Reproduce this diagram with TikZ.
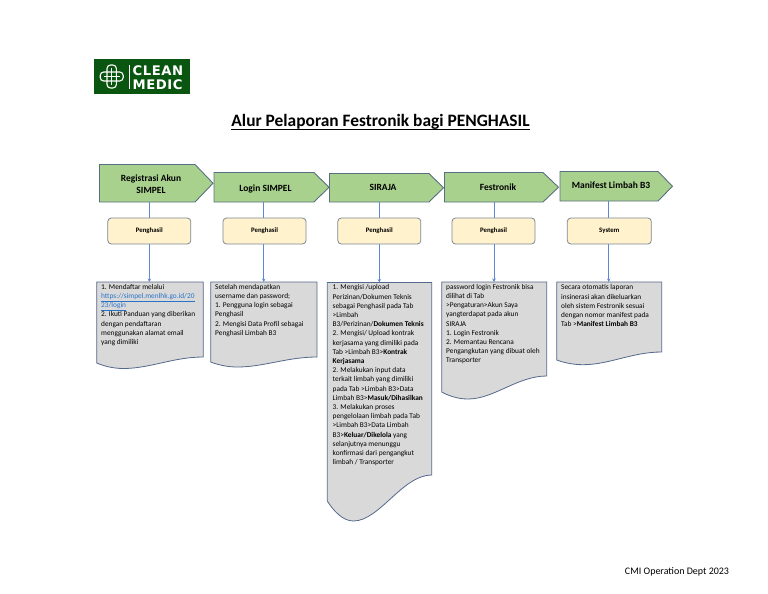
\documentclass[tikz,border=0pt]{standalone}
\usepackage{fontspec}
\setmainfont{Carlito}
\newfontfamily\logofont[LetterSpace=4]{DejaVu Sans}
\usetikzlibrary{positioning,arrows.meta}
\definecolor{headgreen}{RGB}{169,209,142}
\definecolor{headline}{RGB}{90,110,130}
\definecolor{pillfill}{RGB}{255,242,204}
\definecolor{pillline}{RGB}{125,135,150}
\definecolor{docfill}{RGB}{217,217,217}
\definecolor{docline}{RGB}{85,105,140}
\definecolor{linkblue}{RGB}{95,135,210}
\definecolor{urlblue}{RGB}{40,115,200}
\definecolor{logogreen}{RGB}{10,85,15}
\tikzset{
    headbox/.style={inner sep=0pt, align=center, font=\fontsize{9.5}{12.5}\selectfont\bfseries},
    pill/.style={rectangle, draw=pillline, line width=0.8pt, fill=pillfill, rounded corners=3.5pt, font=\fontsize{6.8}{8}\selectfont\bfseries},
    doctext/.style={inner sep=0pt, align=left, anchor=north west, font=\fontsize{7.35}{9.2}\selectfont},
    doc/.style={draw=docline, line width=0.8pt, fill=docfill},
    head/.style={draw=headline, line width=0.9pt, fill=headgreen},
    link/.style={draw=linkblue, line width=0.8pt},
    arrow/.style={link, -{Stealth[length=3.5pt,width=3.5pt]}}
}
% x1, x2 (shoulder), x3 (tip), top, bottom
\newcommand{\headshape}[5]{\draw[head] (#1,#4) -- (#2,#4) -- (#3,{(#4+#5)/2}) -- (#2,#5) -- (#1,#5) -- cycle;}
% left, right, top, bottom at left, lowest point, bottom at right
\newcommand{\docshape}[6]{\draw[doc] (#1,#3) -- (#2,#3) -- (#2,#6)
    .. controls ({#1+0.72*(#2-#1)},#6) and ({#1+0.5*(#2-#1)},#5) .. ({#1+0.25*(#2-#1)},#5)
    .. controls ({#1+0.15*(#2-#1)},#5) and ({#1+0.06*(#2-#1)},{(#4+#5)/2}) .. (#1,#4) -- cycle;}
\begin{document}
\begin{tikzpicture}[x=1pt,y=-1pt]
\useasboundingbox (0,0) rectangle (768,594);

% logo
\node[fill=logogreen, minimum width=96pt, minimum height=35pt, inner sep=0pt] (logo) at (142,76.7) {};
\node[text=white, font=\fontsize{13.2}{14.5}\logofont\bfseries, align=left, inner sep=0pt, anchor=west] (logotext) at (132.5,77.5) {CLEAN\\MEDIC};
\draw[white, line width=1.1pt, rounded corners=3.5pt] (107,65) rectangle (116.4,88);
\draw[white, line width=1.1pt, rounded corners=3.5pt] (100.2,72) rectangle (123.2,81);
\draw[white, line width=0.8pt] (111.7,68) -- (111.7,85) (104,76.5) -- (120,76.5);
\draw[white, line width=0.6pt] (129,65) -- (129,89);

% title
\node[font=\fontsize{17.4}{20}\selectfont\bfseries, inner sep=0pt, anchor=base] (title) at (380.5,126.7) {Alur Pelaporan Festronik bagi PENGHASIL};
\draw[line width=1.1pt] ([yshift=-3.2pt]title.base west) -- ([yshift=-3.2pt]title.base east);

% headers
\headshape{99.5}{195}{213}{164.5}{202}
\headshape{214}{314}{329}{172.5}{202}
\headshape{329.5}{429}{443.5}{173.5}{202}
\headshape{444.5}{543}{558.5}{172.5}{202}
\headshape{560}{658}{672.5}{171.5}{201}
\node[headbox] (reg) at (151,184) {Registrasi Akun\\SIMPEL};
\node[headbox] (login) at (265.5,188.5) {Login SIMPEL};
\node[headbox] (siraja) at (383,187) {SIRAJA};
\node[headbox] (festronik) at (498,187) {Festronik};
\node[headbox] (manifest) at (611,185.5) {Manifest Limbah B3};

% actors
\node[pill, minimum width=83pt, minimum height=26pt] (pill1) at (149.3,231) {Penghasil};
\node[pill, minimum width=83pt, minimum height=26pt] (pill2) at (264.5,231) {Penghasil};
\node[pill, minimum width=83pt, minimum height=26pt] (pill3) at (379.3,231) {Penghasil};
\node[pill, minimum width=83pt, minimum height=26pt] (pill4) at (493.5,231) {Penghasil};
\node[pill, minimum width=84pt, minimum height=26pt] (pill5) at (609.3,231) {System};

% documents
\docshape{96.7}{203.3}{282}{363}{368.5}{357}
\docshape{210.7}{317}{282}{362}{367}{357}
\docshape{327.3}{431.7}{282.5}{501}{521}{475}
\docshape{441.7}{546.7}{282}{392}{399}{376}
\docshape{556.7}{661.7}{282}{360}{364.7}{352}
\node[doctext] (doc1) at (101,284) {1. Mendaftar melalui\\
\textcolor{urlblue}{\underline{https://simpel.menlhk.go.id/20}}\\
\textcolor{urlblue}{\underline{23/login}}\\
2. Ikuti Panduan yang diberikan\\
dengan pendaftaran\\
menggunakan alamat email\\
yang dimiliki};
\node[doctext] (doc2) at (215,284) {Setelah mendapatkan\\
username dan password;\\
1. Pengguna login sebagai\\
Penghasil\\
2. Mengisi Data Profil sebagai\\
Penghasil Limbah B3};
\node[doctext] (doc3) at (332.5,284.5) {1. Mengisi /upload\\
Perizinan/Dokumen Teknis\\
sebagai Penghasil pada Tab\\
>Limbah\\
B3/Perizinan/\textbf{Dokumen Teknis}\\
2. Mengisi/ Upload kontrak\\
kerjasama yang dimiliki pada\\
Tab >Limbah B3>\textbf{Kontrak}\\
\textbf{Kerjasama}\\
2. Melakukan input data\\
terkait limbah yang dimiliki\\
pada Tab >Limbah B3>Data\\
Limbah B3>\textbf{Masuk/Dihasilkan}\\
3. Melakukan proses\\
pengelolaan limbah pada Tab\\
>Limbah B3>Data Limbah\\
B3>\textbf{Keluar/Dikelola} yang\\
selanjutnya menunggu\\
konfirmasi dari pengangkut\\
limbah / Transporter};
\node[doctext] (doc4) at (446,284) {password login Festronik bisa\\
dilihat di Tab\\
>Pengaturan>Akun Saya\\
yangterdapat pada akun\\
SIRAJA\\
1. Login Festronik\\
2. Memantau Rencana\\
Pengangkutan yang dibuat oleh\\
Transporter};
\node[doctext] (doc5) at (561,284.5) {Secara otomatis laporan\\
insinerasi akan dikeluarkan\\
oleh sistem Festronik sesuai\\
dengan nomor manifest pada\\
Tab >\textbf{Manifest Limbah B3}};

% connectors
\coordinate (top1) at (149.3,202);
\coordinate (top2) at (263.7,202);
\coordinate (top3) at (379.3,202);
\coordinate (top4) at (494,202);
\coordinate (top5) at (608.7,201);
\coordinate (end1) at (149.3,282);
\coordinate (end2) at (263.7,282);
\coordinate (end3) at (379.3,282.5);
\coordinate (end4) at (494,282);
\coordinate (end5) at (608.7,282);
\foreach \i in {1,...,5}{
    \draw[link] (top\i) -- (top\i |- pill\i.north);
    \draw[arrow] (end\i |- pill\i.south) -- (end\i);
}

% footer
\node[font=\fontsize{10}{12}\selectfont, inner sep=0pt] (footer) at (677,571.5) {CMI Operation Dept 2023};

\end{tikzpicture}
\end{document}
